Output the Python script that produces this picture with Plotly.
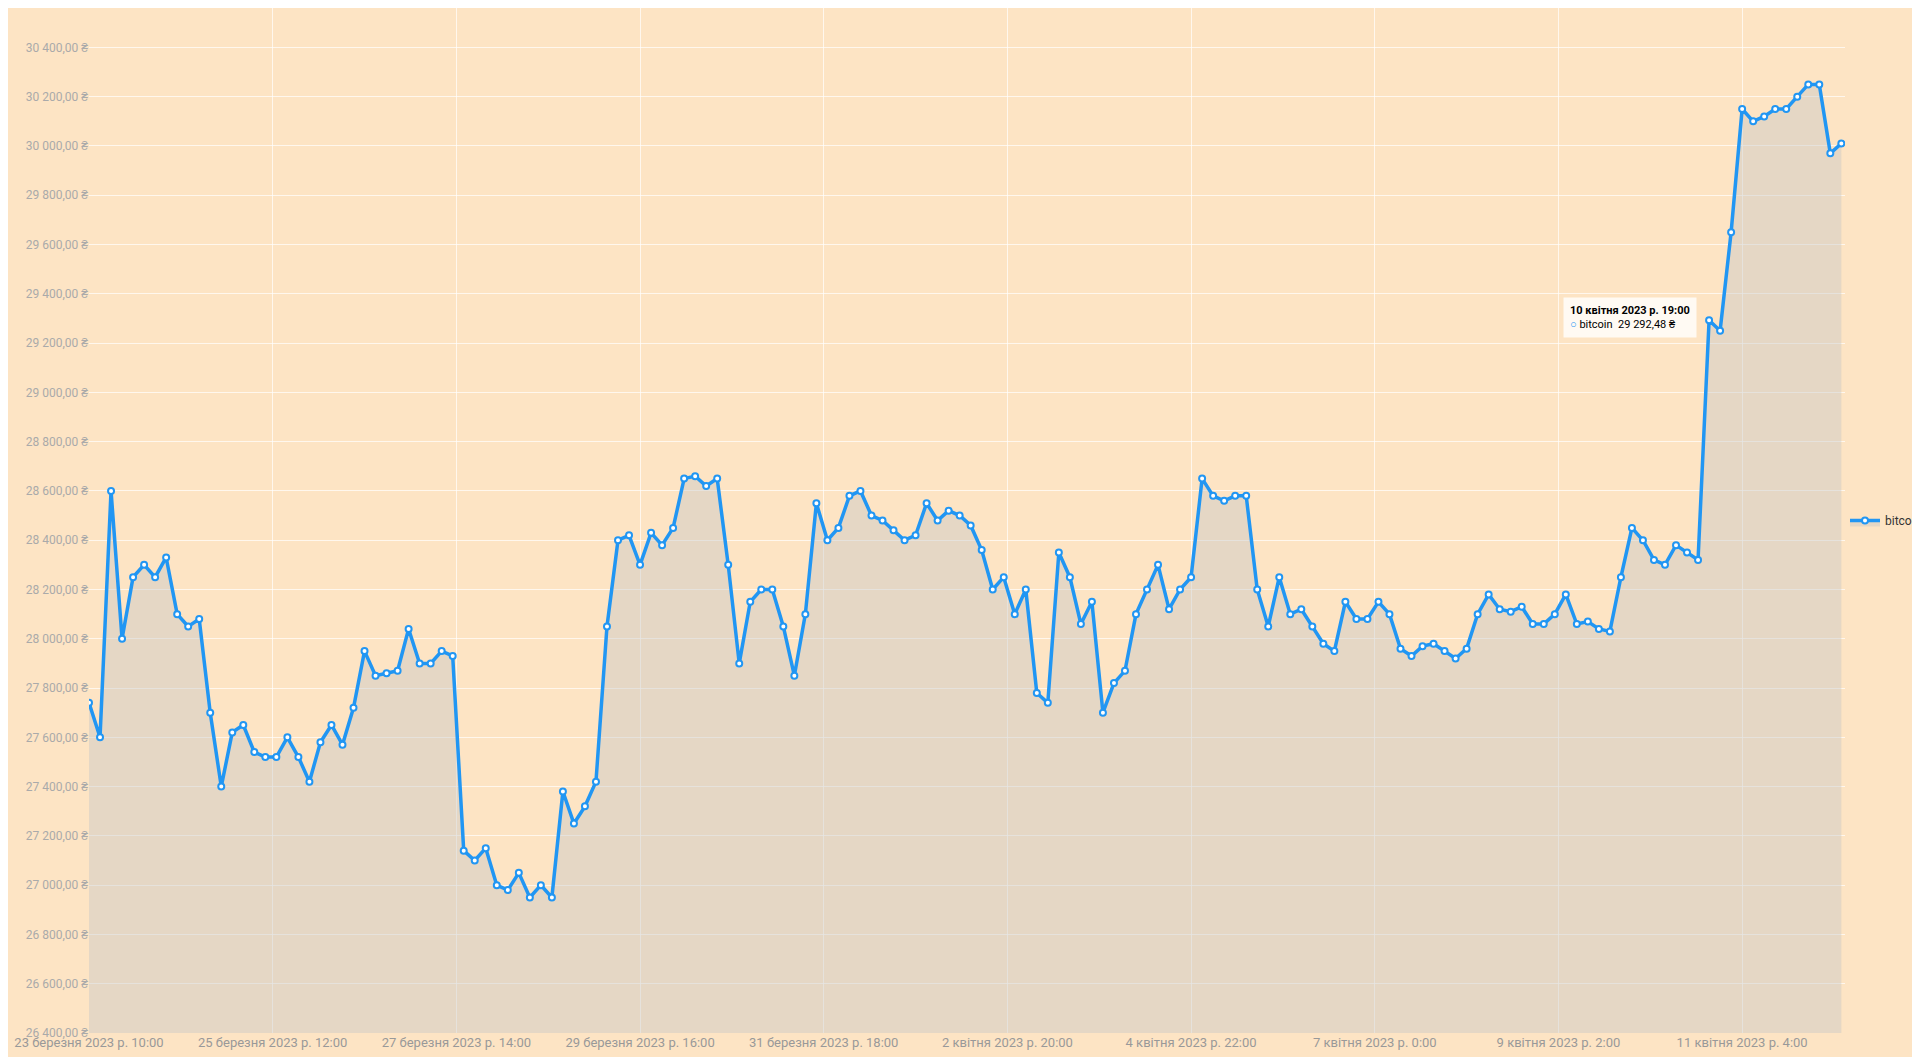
import pandas as pd
import plotly.graph_objects as go

# bitcoin price, 3-hour steps from 23 Mar 2023 10:00
start = "2023-03-23 10:00"
prices = [
    27740, 27600, 28600, 28000, 28250, 28300, 28250, 28330, 28100, 28050,
    28080, 27700, 27400, 27620, 27650, 27540, 27520, 27520, 27600, 27520,
    27420, 27580, 27650, 27570, 27720, 27950, 27850, 27860, 27870, 28040,
    27900, 27900, 27950, 27930, 27140, 27100, 27150, 27000, 26980, 27050,
    26950, 27000, 26950, 27380, 27250, 27320, 27420, 28050, 28400, 28420,
    28300, 28430, 28380, 28450, 28650, 28660, 28620, 28650, 28300, 27900,
    28150, 28200, 28200, 28050, 27850, 28100, 28550, 28400, 28450, 28580,
    28600, 28500, 28480, 28440, 28400, 28420, 28550, 28480, 28520, 28500,
    28460, 28360, 28200, 28250, 28100, 28200, 27780, 27740, 28350, 28250,
    28060, 28150, 27700, 27820, 27870, 28100, 28200, 28300, 28120, 28200,
    28250, 28650, 28580, 28560, 28580, 28580, 28200, 28050, 28250, 28100,
    28120, 28050, 27980, 27950, 28150, 28080, 28080, 28150, 28100, 27960,
    27930, 27970, 27980, 27950, 27920, 27960, 28100, 28180, 28120, 28110,
    28130, 28060, 28060, 28100, 28180, 28060, 28070, 28040, 28030, 28250,
    28450, 28400, 28320, 28300, 28380, 28350, 28320, 29292.48, 29250, 29650,
    30150, 30100, 30120, 30150, 30150, 30200, 30250, 30250, 29970, 30010,
]
times = pd.date_range(start, periods=len(prices), freq="3h")

tick_times = pd.date_range(start, periods=10, freq="50h")
tick_text = [
    "23 березня 2023 р. 10:00", "25 березня 2023 р. 12:00", "27 березня 2023 р. 14:00",
    "29 березня 2023 р. 16:00", "31 березня 2023 р. 18:00", "2 квітня 2023 р. 20:00",
    "4 квітня 2023 р. 22:00", "7 квітня 2023 р. 0:00", "9 квітня 2023 р. 2:00",
    "11 квітня 2023 р. 4:00",
]

blue = "#2196F3"
fig = go.Figure()
fig.add_trace(go.Scatter(
    x=times, y=prices, name="bitcoin", mode="lines+markers",
    line=dict(color=blue, width=3.5),
    marker=dict(size=6, color="white", line=dict(color=blue, width=2)),
    fill="tozeroy", fillcolor="rgba(200,200,200,0.45)",
))

hover_i = 147
fig.add_annotation(
    x=times[hover_i], y=prices[hover_i], xanchor="right", yanchor="bottom",
    xshift=-12, yshift=-18, showarrow=False, align="left",
    text="<b>10 квітня 2023 р. 19:00</b><br><span style='color:#2196F3'>○</span> bitcoin  29 292,48 ₴",
    bgcolor="rgba(255,255,255,0.8)", borderpad=6,
    font=dict(size=11, color="black"),
)

grid = "rgba(255,255,255,0.7)"
fig.update_layout(
    width=1920, height=1057,
    margin=dict(l=81, r=83, t=0, b=32, autoexpand=False),
    paper_bgcolor="#fde4c4", plot_bgcolor="#fde4c4",
    font=dict(family="Roboto, sans-serif", color="#999999", size=13),
    separators=", ",
    legend=dict(x=1.0, xanchor="left", y=0.5, yanchor="middle",
                font=dict(color="#333333", size=12), itemwidth=30),
    showlegend=True,
)
fig.update_xaxes(
    tickvals=tick_times, ticktext=tick_text, showgrid=True, gridcolor=grid,
    range=[times[0], pd.Timestamp("2023-04-12 08:00")], zeroline=False,
    automargin=False, tickfont=dict(size=13, color="#999999"),
)
fig.update_yaxes(
    range=[26400, 30560], dtick=200, tickformat=",.2f", ticksuffix=" ₴",
    showgrid=True, gridcolor=grid, zeroline=False, automargin=False,
    tickfont=dict(size=12, color="#aaaaaa"),
)

fig.write_html("out.html")
